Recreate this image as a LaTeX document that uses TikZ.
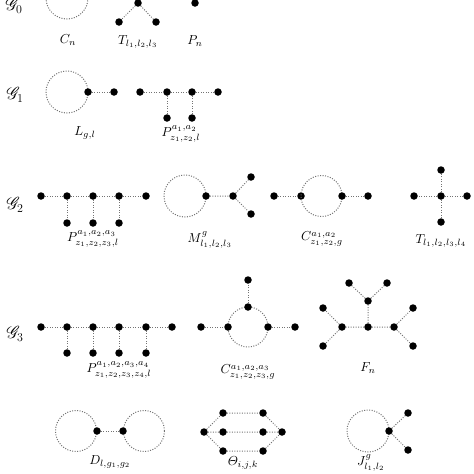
\documentclass[tikz,border=0pt]{standalone}
\usepackage{amsmath}
\usepackage{mathrsfs}
\begin{document}
\begin{tikzpicture}[x=1pt,y=-1pt,
  dot/.style={circle,fill=black,inner sep=0pt,minimum size=7.5pt},
  edge/.style={black!55,line width=1pt,dash pattern=on 1pt off 1.5pt},
  lab/.style={inner sep=0pt,font=\normalsize,scale=1.3},
  glab/.style={inner sep=0pt,font=\LARGE}]
\useasboundingbox (0,0) rectangle (474,474);
\clip (0,0) rectangle (474,474);
% ---------- G0 ----------
\node[glab] (g0) at (14,6) {$\mathscr{G}_0$};
\coordinate (cnc) at (67,-2);
\draw[edge] (cnc) circle (21);
\node[lab] (cnl) at (68,40) {$C_n$};
\node[dot] (t0) at (138,3) {};
\node[dot] (t1) at (119,22) {};
\node[dot] (t2) at (156,22) {};
\coordinate (t3) at (138,-10);
\draw[edge] (t0) -- (t1) (t0) -- (t2) (t0) -- (t3);
\node[lab] (tl) at (138,42) {$T_{l_1,l_2,l_3}$};
\node[dot] (p0) at (195,3) {};
\coordinate (p0u) at (195,-10);
\draw[edge] (p0) -- (p0u);
\node[lab] (pl) at (195,41) {$P_n$};
% ---------- G1 ----------
\node[glab] (g1) at (15,95) {$\mathscr{G}_1$};
\coordinate (lc) at (67,92);
\draw[edge] (lc) circle (21);
\node[dot] (l0) at (88,92) {};
\node[dot] (l1) at (114,92) {};
\draw[edge] (l0) -- (l1);
\node[lab] (ll) at (85,133) {$L_{g,l}$};
\node[dot] (q1) at (140,92) {};
\node[dot] (q2) at (167,92) {};
\node[dot] (q3) at (192,92) {};
\node[dot] (q4) at (218,92) {};
\node[dot] (q5) at (167,118) {};
\node[dot] (q6) at (192,118) {};
\draw[edge] (q1) -- (q2) -- (q3) -- (q4) (q2) -- (q5) (q3) -- (q6);
\node[lab] (ql) at (181,134) {$P^{a_1,a_2}_{z_1,z_2,l}$};
% ---------- G2 ----------
\node[glab] (g2) at (15,205) {$\mathscr{G}_2$};
\node[dot] (r1) at (41,196) {};
\node[dot] (r2) at (67,196) {};
\node[dot] (r3) at (93,196) {};
\node[dot] (r4) at (119,196) {};
\node[dot] (r5) at (146,196) {};
\node[dot] (r6) at (67,223) {};
\node[dot] (r7) at (93,223) {};
\node[dot] (r8) at (119,223) {};
\draw[edge] (r1) -- (r2) -- (r3) -- (r4) -- (r5) (r2) -- (r6) (r3) -- (r7) (r4) -- (r8);
\node[lab] (rl) at (93,239) {$P^{a_1,a_2,a_3}_{z_1,z_2,z_3,l}$};
\coordinate (mc) at (185,196);
\draw[edge] (mc) circle (21);
\node[dot] (m0) at (206,196) {};
\node[dot] (m1) at (233,196) {};
\node[dot] (m2) at (251,177) {};
\node[dot] (m3) at (251,214) {};
\draw[edge] (m0) -- (m1) (m1) -- (m2) (m1) -- (m3);
\node[lab] (ml) at (210,240) {$M^g_{l_1,l_2,l_3}$};
\node[dot] (c1) at (274,196) {};
\node[dot] (c2) at (301,196) {};
\coordinate (cc) at (321.5,196);
\draw[edge] (cc) circle (20.5);
\node[dot] (c3) at (342,196) {};
\node[dot] (c4) at (368,196) {};
\draw[edge] (c1) -- (c2) (c3) -- (c4);
\node[lab] (cl) at (322,239) {$C^{a_1,a_2}_{z_1,z_2,g}$};
\node[dot] (s0) at (441,196) {};
\node[dot] (s1) at (441,170) {};
\node[dot] (s2) at (441,222) {};
\node[dot] (s3) at (414,196) {};
\node[dot] (s4) at (467,196) {};
\draw[edge] (s0) -- (s1) (s0) -- (s2) (s0) -- (s3) (s0) -- (s4);
\node[lab] (sl) at (441,241) {$T_{l_1,l_2,l_3,l_4}$};
% ---------- G3 ----------
\node[glab] (g3) at (15,334) {$\mathscr{G}_3$};
\node[dot] (u1) at (41,327) {};
\node[dot] (u2) at (67,327) {};
\node[dot] (u3) at (93,327) {};
\node[dot] (u4) at (119,327) {};
\node[dot] (u5) at (146,327) {};
\node[dot] (u6) at (172,327) {};
\node[dot] (u7) at (67,353) {};
\node[dot] (u8) at (93,353) {};
\node[dot] (u9) at (119,353) {};
\node[dot] (u10) at (146,353) {};
\draw[edge] (u1) -- (u2) -- (u3) -- (u4) -- (u5) -- (u6) (u2) -- (u7) (u3) -- (u8) (u4) -- (u9) (u5) -- (u10);
\node[lab] (ul) at (119,370) {$P^{a_1,a_2,a_3,a_4}_{z_1,z_2,z_3,z_4,l}$};
\coordinate (kc) at (248,327);
\draw[edge] (kc) circle (20);
\node[dot] (k1) at (201,327) {};
\node[dot] (k2) at (228,327) {};
\node[dot] (k3) at (248,307) {};
\node[dot] (k4) at (248,280) {};
\node[dot] (k5) at (268,327) {};
\node[dot] (k6) at (295,327) {};
\draw[edge] (k1) -- (k2) (k3) -- (k4) (k5) -- (k6);
\node[lab] (kl) at (248,372) {$C^{a_1,a_2,a_3}_{z_1,z_2,z_3,g}$};
\node[dot] (f0) at (368,327) {};
\node[dot] (f1) at (342,327) {};
\node[dot] (f2) at (394,327) {};
\node[dot] (f3) at (368,301) {};
\node[dot] (f4) at (349,283) {};
\node[dot] (f5) at (387,283) {};
\node[dot] (f6) at (323,308) {};
\node[dot] (f7) at (323,346) {};
\node[dot] (f8) at (413,308) {};
\node[dot] (f9) at (413,346) {};
\draw[edge] (f0) -- (f1) (f0) -- (f2) (f0) -- (f3) (f3) -- (f4) (f3) -- (f5)
  (f1) -- (f6) (f1) -- (f7) (f2) -- (f8) (f2) -- (f9);
\node[lab] (fl) at (368,368) {$F_n$};
% ---------- last row ----------
\coordinate (dc1) at (76,431);
\coordinate (dc2) at (144,431);
\draw[edge] (dc1) circle (20.5) (dc2) circle (20.5);
\node[dot] (d1) at (97,431) {};
\node[dot] (d2) at (123,431) {};
\draw[edge] (d1) -- (d2);
\node[lab] (dl) at (110,462) {$D_{l,g_1,g_2}$};
\node[dot] (h0) at (204,432) {};
\node[dot] (h1) at (223,413) {};
\node[dot] (h2) at (223,432) {};
\node[dot] (h3) at (223,451) {};
\node[dot] (h4) at (263,413) {};
\node[dot] (h5) at (263,432) {};
\node[dot] (h6) at (263,451) {};
\node[dot] (h7) at (282,432) {};
\draw[edge] (h0) -- (h1) -- (h4) -- (h7) (h0) -- (h2) -- (h5) -- (h7) (h0) -- (h3) -- (h6) -- (h7);
\node[lab] (hl) at (243,463) {$\varTheta_{i,j,k}$};
\coordinate (jc) at (368,431);
\draw[edge] (jc) circle (21);
\node[dot] (j0) at (389,431) {};
\node[dot] (j1) at (408,413) {};
\node[dot] (j2) at (408,450) {};
\draw[edge] (j0) -- (j1) (j0) -- (j2);
\node[lab] (jl) at (371,463) {$J^g_{l_1,l_2}$};
\end{tikzpicture}
\end{document}
